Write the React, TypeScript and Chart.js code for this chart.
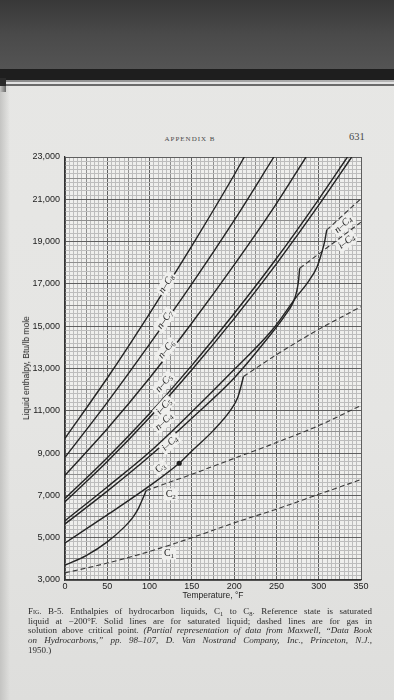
import React, { useEffect, useRef } from 'react';
import { Chart, registerables } from 'chart.js';

Chart.register(...registerables);

// ---- Data (temperature °F, liquid enthalpy Btu/lb mole) ----
const nC8T = [0, 50, 100, 150, 200, 212];
const nC8H = [9700, 12550, 15600, 18800, 22150, 23000];
const nC7T = [0, 50, 100, 150, 200, 247];
const nC7H = [8800, 11400, 14150, 17000, 20000, 23000];
const nC6T = [0, 50, 100, 150, 200, 250, 285];
const nC6H = [7950, 10150, 12550, 15150, 17900, 20800, 23000];
const nC5T = [0, 50, 100, 150, 200, 250, 300, 334];
const nC5H = [6850, 8780, 10870, 13150, 15600, 18200, 21000, 23000];
const iC5T = [0, 50, 100, 150, 200, 250, 300, 339];
const iC5H = [6700, 8600, 10680, 12940, 15360, 17950, 20720, 23000];
const nC4T = [0, 50, 100, 150, 200, 245, 273, 289, 298, 303, 307, 309.5];
const nC4H = [5800, 7400, 9050, 10950, 12950, 14820, 16350, 17180, 17800, 18400, 19000, 19550];
const nC4GasT = [309.5, 350];
const nC4GasH = [19550, 21030];
const iC4T = [0, 50, 100, 150, 200, 241, 260, 270, 274, 276, 277.5];
const iC4H = [5650, 7200, 8850, 10650, 12550, 14500, 15500, 16150, 16650, 17100, 17740];
const iC4GasT = [277.5, 350];
const iC4GasH = [17740, 19920];
const c3T = [0, 50, 100, 135, 150, 175, 196, 204, 208, 211];
const c3H = [4750, 6080, 7450, 8520, 9100, 10050, 11040, 11600, 12140, 12620];
const c3GasT = [211, 250, 300, 350];
const c3GasH = [12620, 13650, 14850, 15920];
const c2T = [0, 25, 50, 70, 80, 87, 92, 96];
const c2H = [3700, 4150, 4800, 5500, 5950, 6400, 6850, 7230];
const c2GasT = [96, 150, 200, 250, 300, 350];
const c2GasH = [7230, 8000, 8750, 9500, 10300, 11250];
const c1GasT = [0, 50, 100, 150, 200, 250, 300, 350];
const c1GasH = [3335, 3800, 4350, 5000, 5700, 6350, 7050, 7750];
const markT = [135];
const markH = [8520];

// curve labels: prefix, subscript, temperature, enthalpy, angle (deg)
const labelPrefix = ['n–C', 'n–C', 'n–C', 'n–C', 'i–C', 'n–C', 'i–C', 'C', 'C', 'C', 'n–C', 'i–C'];
const labelSub = ['8', '7', '6', '5', '5', '4', '4', '3', '2', '1', '4', '4'];
const labelT = [120, 118, 120, 117, 117, 117, 124, 113, 125, 123, 329, 333];
const labelH = [17000, 15300, 13900, 12300, 11200, 10480, 9460, 8300, 7050, 4250, 19800, 19000];
const labelAngle = [58, 55, 52, 49, 48, 44, 42, 34, 0, 0, 43, 37];

// axis ticks
const xMin = 0, xMax = 350, xMinor = 5, xMid = 25, xMajor = 50;
const yMin = 3000, yMax = 23000, yMinor = 200, yMid = 1000, yMajor = 2000;

const pts = (t: number[], h: number[]) => t.map((v, i) => ({ x: v, y: h[i] }));

const PLOT_BG = '#efefed';

export default function App() {
  const ref = useRef<HTMLCanvasElement>(null);

  useEffect(() => {
    const canvas = ref.current;
    if (!canvas) return;

    const solid = (t: number[], h: number[]) => ({
      data: pts(t, h),
      borderColor: '#232323',
      borderWidth: 1.4,
      pointRadius: 0,
      cubicInterpolationMode: 'monotone' as const,
      fill: false,
    });
    const dashed = (t: number[], h: number[]) => ({
      data: pts(t, h),
      borderColor: '#3a3a3a',
      borderWidth: 1.1,
      borderDash: [5, 3],
      pointRadius: 0,
      cubicInterpolationMode: 'monotone' as const,
      fill: false,
    });

    const bgPlugin = {
      id: 'plotbg',
      beforeDraw(chart: any) {
        const { ctx, chartArea } = chart;
        ctx.save();
        ctx.fillStyle = PLOT_BG;
        ctx.fillRect(chartArea.left, chartArea.top, chartArea.right - chartArea.left, chartArea.bottom - chartArea.top);
        ctx.restore();
      },
    };

    const labelPlugin = {
      id: 'curveLabels',
      afterDatasetsDraw(chart: any) {
        const { ctx } = chart;
        const xs = chart.scales.x;
        const ys = chart.scales.y;
        labelPrefix.forEach((pre, i) => {
          const px = xs.getPixelForValue(labelT[i]);
          const py = ys.getPixelForValue(labelH[i]);
          const italic = pre !== 'C';
          const mainFont = `${italic ? 'italic ' : ''}10px "Liberation Serif", "DejaVu Serif", serif`;
          const subFont = `${italic ? 'italic ' : ''}7px "Liberation Serif", "DejaVu Serif", serif`;
          ctx.save();
          ctx.font = mainFont;
          const w1 = ctx.measureText(pre).width;
          ctx.font = subFont;
          const w2 = ctx.measureText(labelSub[i]).width;
          const w = w1 + w2;
          ctx.translate(px, py);
          ctx.rotate((-labelAngle[i] * Math.PI) / 180);
          ctx.fillStyle = PLOT_BG;
          ctx.fillRect(-w / 2 - 2, -6, w + 4, 12);
          ctx.fillStyle = '#1e1e1e';
          ctx.textBaseline = 'middle';
          ctx.textAlign = 'left';
          ctx.font = mainFont;
          ctx.fillText(pre, -w / 2, 0);
          ctx.font = subFont;
          ctx.fillText(labelSub[i], -w / 2 + w1, 2.5);
          ctx.restore();
        });
      },
    };

    const gridStyle = (minor: number, mid: number, major: number) => ({
      drawTicks: false,
      color: (c: any) => {
        const v = Math.round(c.tick ? c.tick.value : 0);
        if (v % major === (major === yMajor ? 1000 : 0)) return '#5e5e5e';
        if (v % mid === 0) return '#8e8e8e';
        return '#bdbdbd';
      },
      lineWidth: 1,
    });

    const chart = new Chart(canvas, {
      type: 'line',
      data: {
        datasets: [
          solid(nC8T, nC8H),
          solid(nC7T, nC7H),
          solid(nC6T, nC6H),
          solid(nC5T, nC5H),
          solid(iC5T, iC5H),
          solid(nC4T, nC4H),
          dashed(nC4GasT, nC4GasH),
          solid(iC4T, iC4H),
          dashed(iC4GasT, iC4GasH),
          solid(c3T, c3H),
          dashed(c3GasT, c3GasH),
          solid(c2T, c2H),
          dashed(c2GasT, c2GasH),
          dashed(c1GasT, c1GasH),
          {
            data: pts(markT, markH),
            showLine: false,
            pointRadius: 2.6,
            pointBackgroundColor: '#1e1e1e',
            pointBorderColor: '#1e1e1e',
            borderWidth: 0,
          } as any,
        ],
      },
      options: {
        responsive: false,
        animation: false,
        devicePixelRatio: 1,
        layout: { padding: { top: 17, right: 33, left: 0, bottom: 0 } },
        plugins: {
          legend: { display: false },
          tooltip: { enabled: false },
          title: { display: false },
        },
        scales: {
          x: {
            type: 'linear',
            min: xMin,
            max: xMax,
            afterFit: (s: any) => {
              s.height = 30;
            },
            ticks: {
              stepSize: xMinor,
              autoSkip: false,
              maxRotation: 0,
              minRotation: 0,
              padding: 1,
              color: '#222',
              font: { family: '"Liberation Sans", Arial, sans-serif', size: 9 },
              callback: (v: any) => (Math.round(v) % xMajor === 0 ? String(Math.round(v)) : ''),
            },
            grid: gridStyle(xMinor, xMid, xMajor) as any,
            border: { display: true, color: '#333', width: 1.3 },
          },
          y: {
            type: 'linear',
            min: yMin,
            max: yMax,
            afterFit: (s: any) => {
              s.width = 65;
            },
            ticks: {
              stepSize: yMinor,
              autoSkip: false,
              padding: 5,
              color: '#222',
              font: { family: '"Liberation Sans", Arial, sans-serif', size: 9 },
              callback: (v: any) => {
                const n = Math.round(v);
                return n % yMajor === 1000 ? n.toLocaleString('en-US') : '';
              },
            },
            grid: gridStyle(yMinor, yMid, yMajor) as any,
            border: { display: true, color: '#333', width: 1.3 },
          },
        },
      },
      plugins: [bgPlugin, labelPlugin],
    });

    return () => chart.destroy();
  }, []);

  const sub = (d: string) => (
    <span style={{ fontSize: '6.5px', verticalAlign: '-1.5px', lineHeight: 0 }}>{d}</span>
  );
  const lineStyle: React.CSSProperties = {
    height: '9.7px',
    lineHeight: '9.7px',
    textAlign: 'justify',
    textAlignLast: 'justify' as any,
    whiteSpace: 'nowrap',
  };

  return (
    <div
      style={{
        position: 'fixed',
        left: 0,
        top: 0,
        width: 394,
        height: 700,
        overflow: 'hidden',
        background: 'linear-gradient(to bottom, #e7e7e5 0%, #e5e5e3 60%, #dededc 100%)',
      }}
    >
      {/* scanner band */}
      <div style={{ position: 'absolute', left: 0, top: 0, width: 394, height: 69, background: 'linear-gradient(to bottom, #383838, #4a4a4a 50%, #545454)' }} />
      <div style={{ position: 'absolute', left: 0, top: 69, width: 394, height: 11, background: '#1e1e1e' }} />
      <div style={{ position: 'absolute', left: 0, top: 80, width: 394, height: 2, background: 'linear-gradient(to right, #8a8a8a, #b5b5b5)' }} />
      <div style={{ position: 'absolute', left: 0, top: 82, width: 394, height: 2, background: '#e2e2e2' }} />
      <div style={{ position: 'absolute', left: 0, top: 84, width: 394, height: 2, background: '#6a6a6a' }} />
      <div style={{ position: 'absolute', left: 0, top: 78, width: 6, height: 14, background: '#2a2a2a' }} />
      <div style={{ position: 'absolute', left: 0, top: 86, width: 10, height: 614, background: 'linear-gradient(to right, #c4c4c2, rgba(228,228,226,0))' }} />

      {/* running head */}
      <div style={{ position: 'absolute', left: 0, width: 380, top: 135, textAlign: 'center', fontFamily: '"Liberation Serif", serif', fontSize: '7px', letterSpacing: '1px', color: '#4a4a4a' }}>
        APPENDIX B
      </div>
      <div style={{ position: 'absolute', left: 349, top: 131, fontFamily: '"Liberation Serif", serif', fontSize: '10.5px', color: '#4a4a4a' }}>
        631
      </div>

      <canvas ref={ref} width={394} height={470} style={{ position: 'absolute', left: 0, top: 140, width: 394, height: 470 }} />

      {/* axis titles */}
      <div
        style={{
          position: 'absolute',
          left: 26,
          top: 368,
          transform: 'translate(-50%, -50%) rotate(-90deg)',
          whiteSpace: 'nowrap',
          fontFamily: '"Liberation Sans", Arial, sans-serif',
          fontSize: '8.5px',
          color: '#222',
        }}
      >
        Liquid enthalpy, Btu/lb mole
      </div>
      <div
        style={{
          position: 'absolute',
          left: 213,
          top: 595,
          transform: 'translate(-50%, -50%)',
          whiteSpace: 'nowrap',
          fontFamily: '"Liberation Sans", Arial, sans-serif',
          fontSize: '8.5px',
          color: '#222',
        }}
      >
        Temperature, °F
      </div>

      {/* caption */}
      <div style={{ position: 'absolute', left: 28, top: 607, width: 344, fontFamily: '"Liberation Serif", serif', fontSize: '9px', color: '#2c2c2c' }}>
        <div style={lineStyle}>
          <span style={{ fontVariant: 'small-caps' }}>Fig.</span> B-5. Enthalpies of hydrocarbon liquids, C{sub('1')} to C{sub('8')}. Reference state is saturated
        </div>
        <div style={lineStyle}>
          liquid at −200°F. Solid lines are for saturated liquid; dashed lines are for gas in
        </div>
        <div style={lineStyle}>
          solution above critical point. <i>(Partial representation of data from Maxwell, “Data Book</i>
        </div>
        <div style={lineStyle}>
          <i>on Hydrocarbons,” pp. 98–107, D. Van Nostrand Company, Inc., Princeton, N.J.,</i>
        </div>
        <div style={{ ...lineStyle, textAlign: 'left', textAlignLast: 'left' as any }}>1950.)</div>
      </div>
    </div>
  );
}
